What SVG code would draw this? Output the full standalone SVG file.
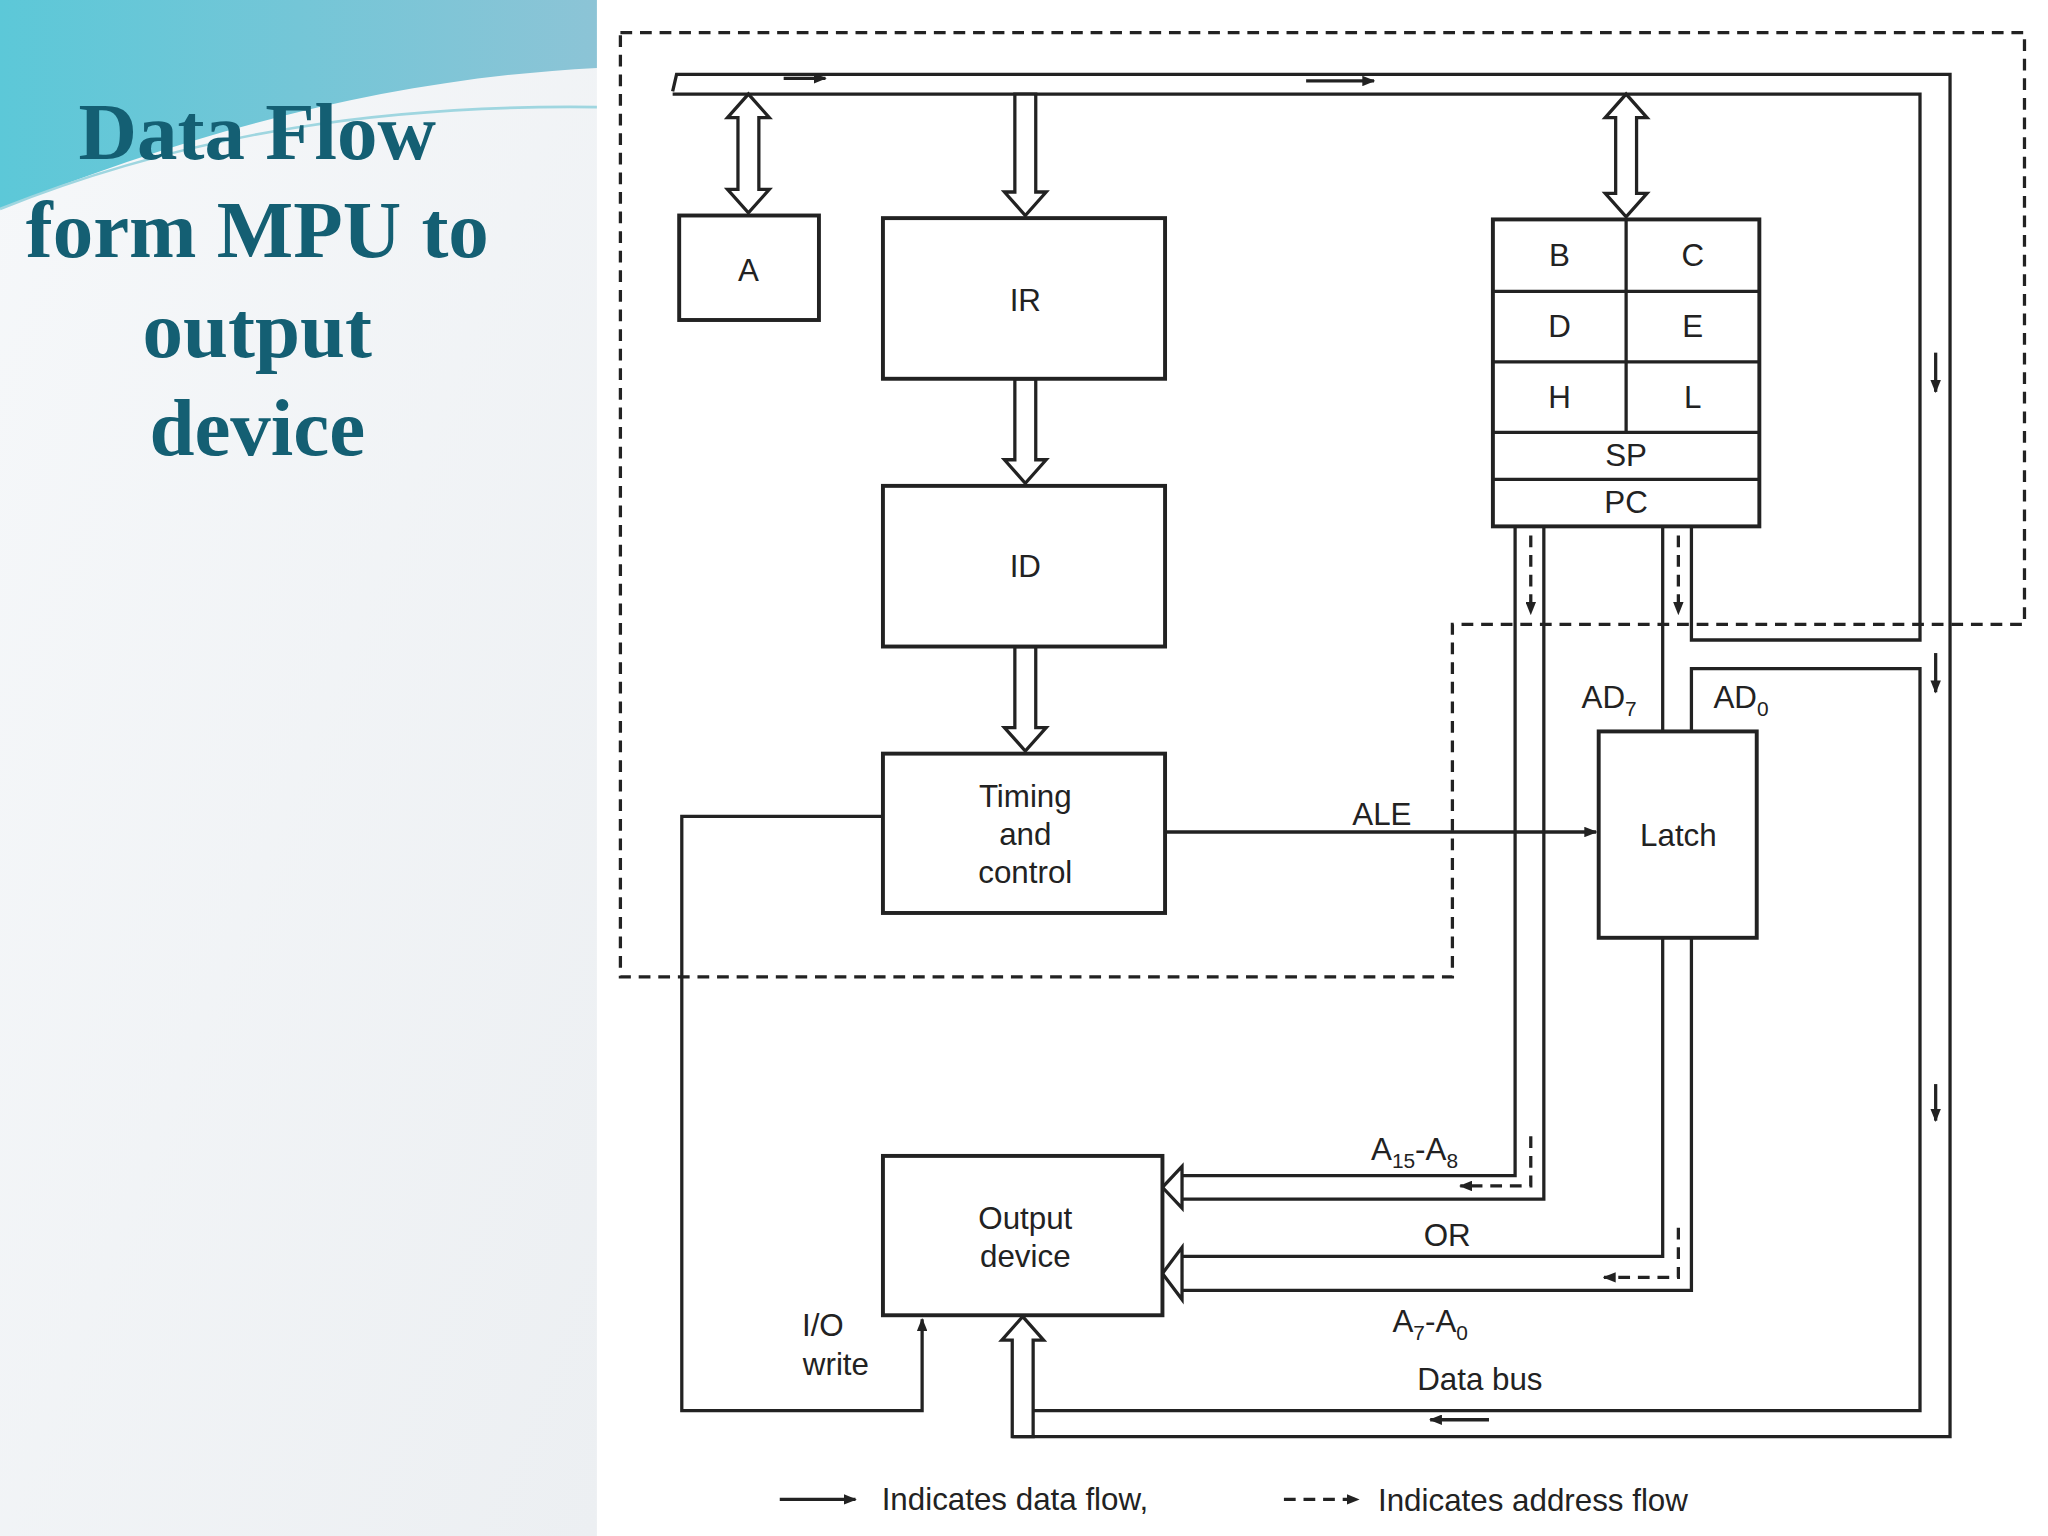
<svg xmlns="http://www.w3.org/2000/svg" width="2048" height="1536" viewBox="0 0 2048 1536">
<defs>
<linearGradient id="bg" x1="0" y1="0" x2="1" y2="1"><stop offset="0" stop-color="#f6f8fa"/><stop offset="1" stop-color="#eceff2"/></linearGradient>
<linearGradient id="tl" x1="0" y1="0" x2="1" y2="0"><stop offset="0" stop-color="#5cc8d8"/><stop offset="1" stop-color="#8cc4d6"/></linearGradient>
<marker id="ah" markerWidth="10" markerHeight="8" refX="9" refY="4" orient="auto" markerUnits="userSpaceOnUse"><path d="M0,0 L10,4 L0,8 z" fill="#222"/></marker>
<style>
.b{fill:#fff;stroke:#222;stroke-width:3}
.l{fill:none;stroke:#222;stroke-width:2.5}
.d{fill:none;stroke:#222;stroke-width:2.5;stroke-dasharray:9 6}
.h{fill:#fff;stroke:#222;stroke-width:2.5}
.t{font-family:"Liberation Sans",Arial,sans-serif;font-size:24px;fill:#222;text-anchor:middle}
.s{font-family:"Liberation Sans",Arial,sans-serif;font-size:24px;fill:#222;text-anchor:start}
.ti{font-family:"Liberation Serif","Times New Roman",serif;font-weight:bold;font-size:62px;fill:#145f73;text-anchor:middle}
</style>
</defs>
<rect width="2048" height="1536" fill="#fff"/>
<g transform="scale(1.30612)">
<rect x="0" y="0" width="457" height="1176" fill="url(#bg)"/>
<path d="M0,0 H457 V52 C300,60 150,100 0,160 Z" fill="url(#tl)"/>
<path d="M0,160 C150,100 300,80 457,82" fill="none" stroke="#9fd6e0" stroke-width="2"/>
<g id="title">
<text class="ti" x="197" y="122">Data Flow</text>
<text class="ti" x="197" y="197">form MPU to</text>
<text class="ti" x="197" y="273">output</text>
<text class="ti" x="197" y="348">device</text>
</g>
<g id="connectors">
<path class="d" d="M475,25 H1550 V478 H1112 V748 H475 Z"/>
<path class="l" d="M515,70 L518,57 H1493 V1100 H775"/>
<path class="l" d="M515,72 H1470 V490 H1295 V403"/>
<path class="l" d="M1295,560 V512 H1470 V1080 H790"/>
<path class="l" d="M1160,403 V900 H905"/>
<path class="l" d="M1182,403 V918 H905"/>
<path class="l" d="M1273,403 V560"/>
<path class="l" d="M1273,718 V962 H905"/>
<path class="l" d="M1295,718 V988 H905"/>
<path class="l" d="M892,637 H1222" marker-end="url(#ah)"/>
<path class="l" d="M676,625 H522 V1080 H706 V1010" marker-end="url(#ah)"/>
<path class="l" d="M600,60 H632" marker-end="url(#ah)"/>
<path class="l" d="M1000,62 H1052" marker-end="url(#ah)"/>
<path class="l" d="M1482,270 V300" marker-end="url(#ah)"/>
<path class="l" d="M1482,500 V530" marker-end="url(#ah)"/>
<path class="l" d="M1482,830 V858" marker-end="url(#ah)"/>
<path class="l" d="M1140,1087 H1095" marker-end="url(#ah)"/>
<path class="d" d="M1172,410 V470" marker-end="url(#ah)"/>
<path class="d" d="M1285,410 V470" marker-end="url(#ah)"/>
<path class="d" d="M1172,870 V908 H1118" marker-end="url(#ah)"/>
<path class="d" d="M1285,940 V978 H1228" marker-end="url(#ah)"/>
<path class="l" d="M785,1100 V1035" marker-end="url(#ah)"/>
<polygon class="h" points="565,90 557,90 573,72 589,90 581,90 581,145 589,145 573,163 557,145 565,145"/>
<polygon class="h" points="777,72 793,72 793,147 801,147 785,165 769,147 777,147"/>
<polygon class="h" points="777,290 793,290 793,352 801,352 785,370 769,352 777,352"/>
<polygon class="h" points="777,495 793,495 793,557 801,557 785,575 769,557 777,557"/>
<polygon class="h" points="1237,90 1229,90 1245,72 1261,90 1253,90 1253,148 1261,148 1245,166 1229,148 1237,148"/>
<polygon class="h" points="775,1100 775,1026 767,1026 783,1008 799,1026 791,1026 791,1100"/>
<polygon class="h" points="905,900 905,893 890,909 905,925 905,918"/>
<polygon class="h" points="905,962 905,955 890,975 905,995 905,988"/>
<path class="l" d="M597,1148 H655" marker-end="url(#ah)"/>
<path class="d" d="M983,1148 H1040" marker-end="url(#ah)"/>
</g>
<g id="A"><rect class="b" x="520" y="165" width="107" height="80"/><text class="t" x="573" y="215">A</text></g>
<g id="IR"><rect class="b" x="676" y="167" width="216" height="123"/><text class="t" x="785" y="238">IR</text></g>
<g id="ID"><rect class="b" x="676" y="372" width="216" height="123"/><text class="t" x="785" y="442">ID</text></g>
<g id="timing"><rect class="b" x="676" y="577" width="216" height="122"/>
<text class="t" x="785" y="618">Timing</text><text class="t" x="785" y="647">and</text><text class="t" x="785" y="676">control</text></g>
<g id="regs"><rect class="b" x="1143" y="168" width="204" height="235"/>
<path class="l" d="M1143,223 H1347 M1143,277 H1347 M1143,331 H1347 M1143,367 H1347 M1245,168 V331"/>
<text class="t" x="1194" y="204">B</text><text class="t" x="1296" y="204">C</text>
<text class="t" x="1194" y="258">D</text><text class="t" x="1296" y="258">E</text>
<text class="t" x="1194" y="312">H</text><text class="t" x="1296" y="312">L</text>
<text class="t" x="1245" y="357">SP</text><text class="t" x="1245" y="393">PC</text></g>
<g id="latch"><rect class="b" x="1224" y="560" width="121" height="158"/><text class="t" x="1285" y="648">Latch</text></g>
<g id="output"><rect class="b" x="676" y="885" width="214" height="122"/>
<text class="t" x="785" y="941">Output</text><text class="t" x="785" y="970">device</text></g>
<g id="labels">
<text class="t" x="1058" y="632">ALE</text>
<text class="t" x="1232" y="542">AD<tspan font-size="16" dy="6">7</tspan></text>
<text class="t" x="1333" y="542">AD<tspan font-size="16" dy="6">0</tspan></text>
<text class="t" x="1083" y="888">A<tspan font-size="16" dy="6">15</tspan><tspan dy="-6">-A</tspan><tspan font-size="16" dy="6">8</tspan></text>
<text class="t" x="1108" y="954">OR</text>
<text class="t" x="1095" y="1020">A<tspan font-size="16" dy="6">7</tspan><tspan dy="-6">-A</tspan><tspan font-size="16" dy="6">0</tspan></text>
<text class="t" x="1133" y="1064">Data bus</text>
<text class="t" x="630" y="1023">I/O</text>
<text class="t" x="640" y="1053">write</text>
<text class="s" x="675" y="1156">Indicates data flow,</text>
<text class="s" x="1055" y="1157">Indicates address flow</text>
</g>
</g>
</svg>
